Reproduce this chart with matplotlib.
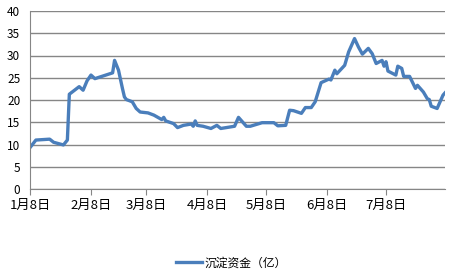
import numpy as np
import matplotlib
matplotlib.use("Agg")
import matplotlib.pyplot as plt

plt.rcParams['font.family'] = ['Noto Sans CJK SC', 'DejaVu Sans']

start = np.datetime64('2014-01-08')
day_offsets = [0, 3, 10, 12, 17, 19, 20, 25, 27, 29, 31, 33, 42, 43, 45, 47, 48, 49, 52, 54,
               56, 60, 63, 67, 68, 69, 73, 75, 78, 82, 83, 84, 85, 88, 92, 95, 97, 104, 106,
               110, 112, 118, 124, 126, 130, 132, 134, 138, 140, 143, 145, 148, 152, 153, 155,
               156, 160, 162, 165, 167, 169, 172, 174, 176, 179, 180, 181, 182, 186, 187, 189,
               190, 193, 196, 197, 200, 202, 203, 204, 207, 210, 211]
values = [9.3, 11.0, 11.2, 10.5, 9.9, 11.0, 21.3, 23.0, 22.2, 24.3, 25.6, 24.8, 26.1, 28.9,
          26.7, 22.6, 20.7, 20.1, 19.6, 18.1, 17.3, 17.1, 16.6, 15.6, 16.1, 15.3, 14.7, 13.8,
          14.3, 14.6, 14.1, 15.3, 14.3, 14.1, 13.6, 14.3, 13.6, 14.1, 16.1, 14.1, 14.1, 14.9,
          14.9, 14.2, 14.3, 17.7, 17.6, 17.0, 18.3, 18.3, 19.6, 23.9, 24.7, 24.5, 26.7, 25.9,
          27.8, 30.8, 33.8, 31.9, 30.3, 31.6, 30.4, 28.2, 28.9, 27.6, 28.6, 26.5, 25.6, 27.6,
          27.1, 25.3, 25.3, 22.6, 23.3, 21.8, 20.3, 20.1, 18.6, 18.1, 21.1, 21.6]
tick_dates = ['2014-01-08', '2014-02-08', '2014-03-08', '2014-04-08', '2014-05-08',
              '2014-06-08', '2014-07-08']
tick_labels = ['1月8日', '2月8日', '3月8日', '4月8日', '5月8日', '6月8日', '7月8日']
series_name = '沉淀资金（亿）'

dates = (start + np.array(day_offsets, dtype='timedelta64[D]')).astype('datetime64[D]')
dates = dates.astype(object)

fig = plt.figure(figsize=(4.62, 2.73), dpi=100)
ax = fig.add_axes([30/462, (273-189)/273, (445-30)/462, (189-11)/273])

ax.plot(dates, values, color='#4A7EBB', lw=2.4, solid_joinstyle='round', label=series_name)

ax.set_ylim(0, 40)
ax.set_yticks(range(0, 41, 5))
ax.set_xlim(np.datetime64('2014-01-08').astype(object), np.datetime64('2014-08-07').astype(object))
ax.set_xticks([np.datetime64(d).astype(object) for d in tick_dates])
ax.set_xticklabels(tick_labels)

ax.grid(axis='y', color='#868686', lw=1.0)
ax.set_axisbelow(True)
for s in ['top', 'right']:
    ax.spines[s].set_visible(False)
ax.spines['left'].set_color('#868686')
ax.spines['bottom'].set_color('#868686')
ax.tick_params(axis='y', length=0, pad=7, labelsize=8.5, colors='black')
ax.tick_params(axis='x', length=4, direction='out', color='#868686', pad=3, labelsize=9.5)

fig.legend(loc='center', bbox_to_anchor=(0.5, (273-263)/273), frameon=False,
           fontsize=8.5, handlelength=2.2, handletextpad=0.2)

fig.savefig('out.png', dpi=100)
